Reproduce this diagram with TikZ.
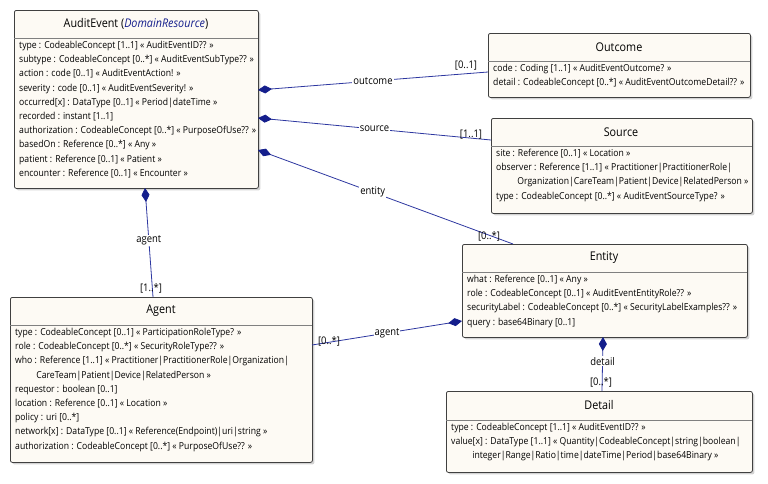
\documentclass[tikz,border=0pt]{standalone}
\usepackage{fontspec}
\setmainfont{Open Sans}[FakeStretch=0.9]
\usetikzlibrary{arrows.meta,shadows}
\definecolor{fillc}{RGB}{253,250,244}
\definecolor{linec}{RGB}{45,55,160}
\definecolor{navy}{RGB}{20,30,140}
\begin{document}
\begin{tikzpicture}[x=1pt,y=-1pt,
  box/.style={draw=black!75,fill=fillc,rounded corners=2pt,line width=0.8pt,anchor=north west,inner sep=0pt,drop shadow={shadow xshift=2pt,shadow yshift=-2pt,opacity=0.35}},
  title/.style={font=\fontsize{12}{14}\selectfont,anchor=center},
  body/.style={font=\fontsize{9.6}{14.2}\selectfont,anchor=north west,align=left,inner sep=0pt},
  sep/.style={draw=black!50,line width=0.6pt},
  con/.style={draw=linec,line width=0.8pt},
  comp/.style={con,{Diamond[navy,length=14pt,width=8pt,fill=navy]}-},
  lab/.style={font=\fontsize{10.5}{12}\selectfont,fill=white,inner sep=1pt},
  mult/.style={font=\fontsize{10.5}{12}\selectfont,inner sep=1pt}]
\useasboundingbox (0,0) rectangle (768,483);
\def\ind{\hspace*{2.2em}}
% AuditEvent
\node[box,minimum width=244,minimum height=178] (ae) at (14,10) {};
\node[title] (aet) at (136,24) {AuditEvent (\textcolor{navy}{\itshape DomainResource})};
\draw[sep] (14,38) -- (258,38);
\node[body] (aeb) at (19,41) {type : CodeableConcept [1..1] « AuditEventID?? »\\
subtype : CodeableConcept [0..*] « AuditEventSubType?? »\\
action : code [0..1] « AuditEventAction! »\\
severity : code [0..1] « AuditEventSeverity! »\\
occurred[x] : DataType [0..1] « Period|dateTime »\\
recorded : instant [1..1]\\
authorization : CodeableConcept [0..*] « PurposeOfUse?? »\\
basedOn : Reference [0..*] « Any »\\
patient : Reference [0..1] « Patient »\\
encounter : Reference [0..1] « Encounter »};
% Outcome
\node[box,minimum width=262,minimum height=64] (out) at (488,33) {};
\node[title] (outt) at (619,47) {Outcome};
\draw[sep] (488,61) -- (750,61);
\node[body] (outb) at (493,64) {code : Coding [1..1] « AuditEventOutcome? »\\
detail : CodeableConcept [0..*] « AuditEventOutcomeDetail?? »};
% Source
\node[box,minimum width=261,minimum height=95] (src) at (491,118) {};
\node[title] (srct) at (621,132) {Source};
\draw[sep] (491,146) -- (752,146);
\node[body] (srcb) at (496,149) {site : Reference [0..1] « Location »\\
observer : Reference [1..1] « Practitioner|PractitionerRole|\\
\ind Organization|CareTeam|Patient|Device|RelatedPerson »\\
type : CodeableConcept [0..*] « AuditEventSourceType? »};
% Entity
\node[box,minimum width=285,minimum height=93] (ent) at (462,244) {};
\node[title] (entt) at (604,258) {Entity};
\draw[sep] (462,272) -- (747,272);
\node[body] (entb) at (467,275) {what : Reference [0..1] « Any »\\
role : CodeableConcept [0..1] « AuditEventEntityRole?? »\\
securityLabel : CodeableConcept [0..*] « SecurityLabelExamples?? »\\
query : base64Binary [0..1]};
% Detail
\node[box,minimum width=306,minimum height=81] (det) at (446,391) {};
\node[title] (dett) at (599,405) {Detail};
\draw[sep] (446,420) -- (752,420);
\node[body] (detb) at (451,423) {type : CodeableConcept [1..1] « AuditEventID?? »\\
value[x] : DataType [1..1] « Quantity|CodeableConcept|string|boolean|\\
\ind integer|Range|Ratio|time|dateTime|Period|base64Binary »};
% Agent
\node[box,minimum width=302,minimum height=165] (ag) at (10,297) {};
\node[title] (agt) at (161,311) {Agent};
\draw[sep] (10,325) -- (312,325);
\node[body] (agb) at (15,328) {type : CodeableConcept [0..1] « ParticipationRoleType? »\\
role : CodeableConcept [0..*] « SecurityRoleType?? »\\
who : Reference [1..1] « Practitioner|PractitionerRole|Organization|\\
\ind CareTeam|Patient|Device|RelatedPerson »\\
requestor : boolean [0..1]\\
location : Reference [0..1] « Location »\\
policy : uri [0..*]\\
network[x] : DataType [0..1] « Reference(Endpoint)|uri|string »\\
authorization : CodeableConcept [0..*] « PurposeOfUse?? »};
% connectors
\coordinate (c1) at (258,90); \coordinate (c1e) at (488,72);
\coordinate (c2) at (258,118); \coordinate (c2e) at (491,140);
\coordinate (c3) at (258,150); \coordinate (c3e) at (513,244);
\coordinate (c4) at (145,188); \coordinate (c4e) at (153,297);
\coordinate (c5) at (462,321); \coordinate (c5e) at (312,345);
\coordinate (c6) at (603,337); \coordinate (c6e) at (602,391);
\draw[comp] (c1) -- node[lab,pos=0.5] (l1) {outcome} (c1e);
\draw[comp] (c2) -- node[lab,pos=0.5] (l2) {source} (c2e);
\draw[comp] (c3) -- node[lab,pos=0.45] (l3) {entity} (c3e);
\draw[comp] (c4) -- node[lab,pos=0.48] (l4) {agent} (c4e);
\draw[comp] (c5) -- node[lab,pos=0.5] (l5) {agent} (c5e);
\draw[comp] (c6) -- node[lab,pos=0.45] (l6) {detail} (c6e);
\node[mult] (m1) at (466,66) {[0..1]};
\node[mult] (m2) at (471,135) {[1..1]};
\node[mult] (m3) at (489,236) {[0..*]};
\node[mult] (m4) at (151,288) {[1..*]};
\node[mult] (m5) at (329,341) {[0..*]};
\node[mult] (m6) at (601,382) {[0..*]};
\end{tikzpicture}
\end{document}
